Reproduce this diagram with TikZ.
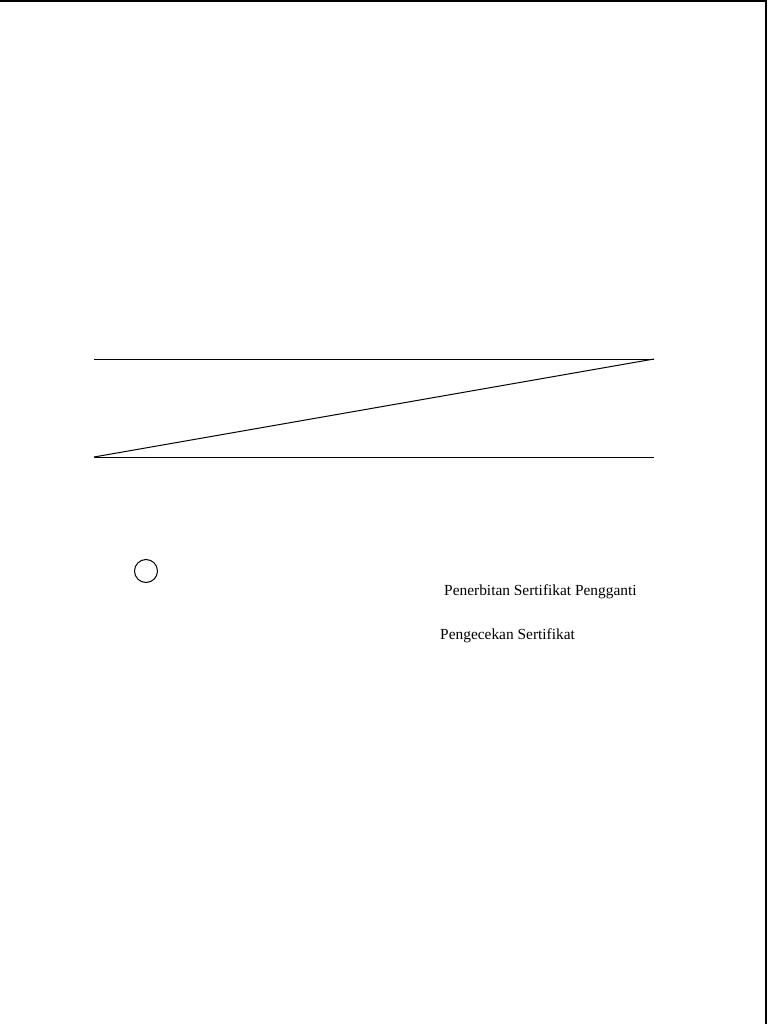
\documentclass[tikz,border=0pt]{standalone}
\usepackage{fontspec}
\setmainfont{Liberation Serif}
\usepackage{tikz}
\usetikzlibrary{positioning}

\tikzset{
  label text/.style={anchor=west, inner sep=0pt, font=\fontsize{15.4}{18}\selectfont},
  thin line/.style={line width=1pt},
}

\begin{document}
\begin{tikzpicture}[x=1pt,y=-1pt]
\useasboundingbox (0,0) rectangle (768,1024);

%% Frame
\draw[line width=1.5pt] (-2,1)--(766,1)--(766,1026);

%% Band
\coordinate (tl) at (94,359);
\coordinate (tr) at (654,359);
\coordinate (bl) at (94,457);
\coordinate (br) at (654,457);
\draw[thin line] (tl)--(tr);
\draw[thin line] (bl)--(br);
\draw[thin line] (bl)--(tr);

%% Start circle
\node[circle, draw, line width=1pt, minimum size=23pt, inner sep=0pt] (start) at (146,571) {};

%% Labels
\node[label text] (terbit) at (444,592) {Penerbitan Sertifikat Pengganti};
\node[label text] (cek) at (440,636) {Pengecekan Sertifikat};

\end{tikzpicture}
\end{document}
